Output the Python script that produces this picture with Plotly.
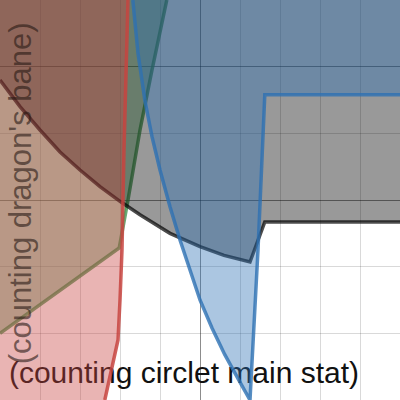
import plotly.graph_objects as go

black_x = [0, 0.5, 1, 1.5, 2, 2.5, 3, 3.5, 4.25, 5, 5.6, 6.25, 6.62, 10]
black_y = [4.8, 4.4, 4.05, 3.72, 3.45, 3.2, 2.98, 2.78, 2.5, 2.3, 2.17, 2.07, 2.67, 2.67]
red_x = [2.62, 2.95, 3.0, 3.05, 3.1, 3.15, 3.2]
red_y = [0, 0.9, 1.5, 2.25, 3.75, 5.1, 6]
green_x = [0, 2.98, 3.2, 3.5, 3.8, 4.17]
green_y = [1.0, 2.28, 3.0, 4.05, 4.95, 6]
blue_x = [3.32, 3.45, 3.62, 3.8, 4.0, 4.25, 4.5, 4.75, 5.0, 5.3, 5.62, 5.95, 6.25, 6.45, 6.62, 10]
blue_y = [6, 5.2, 4.5, 3.95, 3.45, 2.9, 2.4, 1.95, 1.5, 1.08, 0.68, 0.32, 0, 2.25, 4.58, 4.58]

fig = go.Figure()
F = "Liberation Sans, Arial, sans-serif"
fig.add_trace(go.Scatter(x=[4.6], y=[0.37], mode="text", text=["(counting circlet main stat)"],
                         textfont=dict(size=30, color="#111", family=F), hoverinfo="skip"))

def region(xs, ys, cx, cy, color, lc):
    fig.add_trace(go.Scatter(x=xs + cx, y=ys + cy, mode="lines", fill="toself",
                             fillcolor=color, line=dict(width=0), hoverinfo="skip"))
    fig.add_trace(go.Scatter(x=xs, y=ys, mode="lines", line=dict(color=lc, width=3.5), hoverinfo="skip"))

region(green_x, green_y, [0], [6], "rgba(56,140,70,0.4)", "rgba(56,140,70,0.75)")
region(black_x, black_y, [10, 0], [6, 6], "rgba(0,0,0,0.4)", "rgba(0,0,0,0.7)")
region(red_x, red_y, [0, 0], [6, 0], "rgba(199,68,64,0.4)", "rgba(199,68,64,0.85)")
region(blue_x, blue_y, [10], [6], "rgba(45,112,179,0.4)", "rgba(45,112,179,0.8)")

fig.add_annotation(x=0.5, y=3.1, text="(counting dragon's bane)", textangle=-90, showarrow=False,
                   font=dict(size=31, color="rgba(40,25,20,0.6)", family=F))

fig.update_layout(width=400, height=400, margin=dict(l=0, r=0, t=0, b=0, pad=0), showlegend=False,
                  plot_bgcolor="white", paper_bgcolor="white")
fig.update_xaxes(range=[0, 10], dtick=5, tick0=0, showticklabels=False, gridcolor="rgba(0,0,0,0.45)",
                 minor=dict(dtick=1, showgrid=True, gridcolor="rgba(0,0,0,0.15)"), zeroline=False,
                 showline=True, linecolor="#222", linewidth=3, mirror=False)
fig.update_yaxes(range=[0, 6], tickvals=[3, 5], showticklabels=False, gridcolor="rgba(0,0,0,0.45)",
                 minor=dict(tickvals=[1, 2, 4], showgrid=True, gridcolor="rgba(0,0,0,0.15)"), zeroline=False)
fig.write_html("out.html", config={"displayModeBar": False},
               post_script="document.body.style.margin='0';document.body.style.overflow='hidden';")
